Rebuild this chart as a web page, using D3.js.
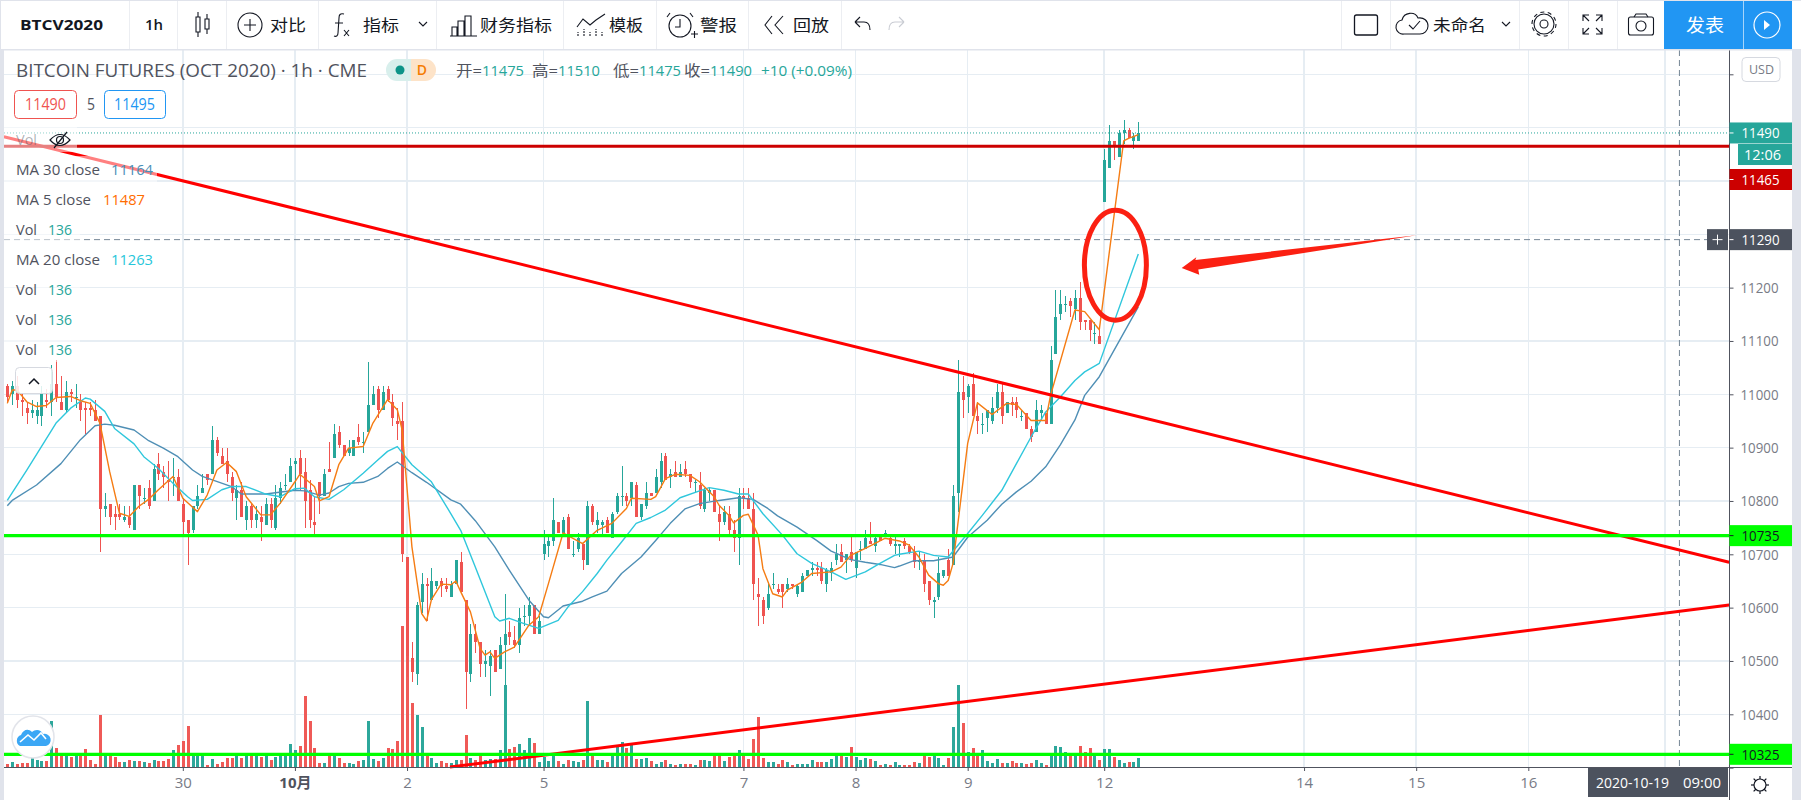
<!DOCTYPE html>
<html>
<head>
<meta charset="utf-8">
<title>BTCV2020 1h</title>
<script src="https://cdn.jsdelivr.net/npm/d3@7/dist/d3.min.js"></script>
<style>
html,body{margin:0;padding:0;background:#fff;overflow:hidden}
svg{display:block}
text{font-family:"Open Sans","Noto Sans CJK SC",sans-serif}
</style>
</head>
<body>
<svg id="chart" width="1801" height="800"></svg>
<script>
// Hourly candles for BTCV2020, one entry per bar
const opens = [
11015,11000,11015,10990,10975,10965,10960,10960,10990,10985,
11020,10985,10970,11005,10995,10985,10975,10975,10970,10960,
10785,10795,10775,10775,10765,10770,10745,10830,10805,10825,
10800,10870,10855,10840,10845,10845,10795,10765,10745,10790,
10815,10850,10850,10915,10885,10875,10845,10805,10820,10765,
10790,10765,10770,10755,10795,10750,10805,10830,10835,10870,
10880,10855,10820,10760,10835,10810,10860,10880,10930,10905,
10890,10885,10920,10910,10930,10980,11010,10970,11010,10985,
10950,10950,10695,10505,10475,10610,10645,10615,10640,10650,
10640,10620,10645,10685,10615,10475,10550,10535,10495,10490,
10520,10485,10530,10555,10540,10530,10585,10585,10605,10550,
10700,10715,10725,10760,10740,10770,10700,10710,10720,10680,
10790,10755,10755,10765,10730,10780,10810,10810,10805,10830,
10770,10790,10815,10815,10835,10885,10845,10855,10845,10860,
10850,10835,10830,10785,10815,10820,10775,10760,10775,10745,
10730,10810,10805,10785,10625,10615,10600,10645,10635,10645,
10635,10645,10625,10630,10660,10670,10675,10675,10645,10665,
10690,10705,10690,10705,10675,10710,10710,10725,10715,10735,
10735,10730,10715,10715,10725,10715,10705,10685,10690,10650,
10610,10620,10660,10690,10680,10815,11005,10995,11020,10960,
10945,10955,10950,10975,11005,10965,10985,10985,10960,10965,
10935,10930,10965,10965,10945,11075,11150,11170,11175,11160,
11180,11140,11140,11115,11110,11360,11425,11475,11445,11490,
11495,11475,11475];
const highs = [
11020,11025,11035,11000,10985,10990,10985,11015,11010,11055,
11065,11035,11025,11010,11020,11000,10985,10985,10990,10960,
10815,10795,10790,10795,10790,10790,10830,10830,10825,10840,
10870,10890,10865,10875,10880,10860,10805,10765,10790,10830,
10850,10850,10940,10920,10900,10900,10855,10830,10835,10800,
10795,10790,10790,10805,10805,10830,10835,10850,10880,10880,
10895,10880,10840,10810,10835,10860,10910,10945,10940,10905,
10915,10915,10945,10930,11060,11015,11015,11015,11015,11000,
10975,10985,10695,10535,10610,10665,10655,10675,10650,10655,
10655,10650,10690,10705,10615,10570,10570,10535,10520,10520,
10520,10545,10625,10575,10565,10600,10605,10620,10605,10585,
10745,10735,10805,10760,10770,10775,10725,10740,10720,10800,
10795,10780,10765,10770,10780,10815,10865,10815,10835,10835,
10795,10835,10815,10860,10890,10890,10860,10875,10870,10875,
10850,10840,10855,10825,10825,10820,10790,10790,10790,10765,
10825,10825,10825,10815,10655,10620,10645,10665,10645,10645,
10655,10645,10645,10665,10670,10685,10685,10685,10675,10685,
10720,10720,10700,10735,10705,10725,10745,10760,10735,10735,
10745,10735,10735,10720,10730,10720,10715,10705,10700,10650,
10620,10695,10670,10710,10830,11065,11035,11020,11040,10985,
10965,10970,10995,11020,11020,10985,10995,10995,10970,10965,
10940,10990,10980,10965,11090,11195,11195,11185,11180,11195,
11210,11140,11140,11135,11125,11460,11505,11475,11495,11515,
11500,11490,11510];
const lows = [
10985,10980,10975,10960,10945,10955,10945,10940,10975,10960,
10985,10970,10965,10985,10975,10950,10925,10960,10950,10705,
10770,10755,10745,10765,10760,10750,10745,10785,10795,10785,
10800,10840,10825,10800,10810,10800,10735,10680,10740,10785,
10815,10830,10850,10885,10870,10835,10800,10765,10770,10745,
10750,10750,10725,10755,10750,10745,10795,10820,10835,10820,
10820,10750,10750,10735,10775,10810,10855,10880,10900,10885,
10885,10885,10905,10890,10930,10980,10955,10970,10985,10940,
10915,10685,10470,10460,10455,10590,10575,10615,10635,10620,
10630,10620,10645,10630,10410,10460,10515,10470,10470,10435,
10480,10485,10455,10530,10525,10515,10565,10570,10550,10550,
10690,10695,10715,10740,10740,10710,10695,10705,10670,10680,
10755,10740,10735,10740,10730,10775,10790,10790,10790,10770,
10765,10785,10810,10815,10825,10840,10825,10845,10845,10845,
10825,10815,10785,10780,10800,10780,10725,10755,10735,10705,
10680,10785,10785,10615,10565,10570,10595,10635,10625,10600,
10630,10635,10620,10630,10660,10660,10660,10645,10630,10650,
10680,10685,10665,10685,10655,10690,10710,10720,10705,10725,
10735,10715,10700,10695,10710,10700,10675,10670,10630,10605,
10580,10615,10655,10660,10680,10780,10955,10965,10960,10925,
10925,10930,10945,10965,10945,10965,10960,10955,10950,10935,
10910,10930,10950,10945,10945,11075,11140,11155,11145,11140,
11120,11120,11100,11095,11095,11360,11425,11440,11445,11470,
11480,11460,11475];
const closes = [
10995,11015,10990,10985,10965,10970,10970,11000,10985,11020,
10995,10970,11005,11000,10995,10970,10970,10970,10950,10785,
10790,10770,10770,10770,10770,10755,10830,10810,10805,10790,
10860,10850,10845,10835,10845,10800,10760,10740,10790,10810,
10825,10840,10915,10890,10870,10850,10815,10820,10770,10790,
10765,10775,10760,10795,10765,10805,10825,10830,10865,10875,
10850,10800,10765,10755,10810,10850,10855,10925,10905,10885,
10900,10915,10910,10910,10980,11000,10970,11005,10990,10955,
10945,10700,10510,10480,10605,10645,10640,10650,10650,10640,
10635,10645,10690,10630,10480,10550,10535,10495,10500,10510,
10480,10530,10550,10545,10530,10580,10585,10605,10550,10575,
10720,10725,10765,10740,10765,10710,10700,10730,10690,10790,
10760,10765,10760,10740,10775,10810,10810,10800,10835,10770,
10795,10815,10810,10845,10875,10840,10850,10845,10855,10850,
10835,10835,10790,10820,10820,10780,10760,10780,10745,10730,
10810,10805,10785,10645,10620,10585,10625,10645,10630,10630,
10645,10640,10640,10660,10670,10675,10670,10650,10670,10675,
10700,10685,10700,10690,10705,10710,10730,10720,10730,10725,
10740,10720,10720,10720,10715,10705,10685,10690,10645,10615,
10615,10665,10670,10660,10810,11005,10990,11015,10960,10950,
10945,10970,10975,11005,10960,10985,10980,10970,10960,10935,
10920,10970,10970,10945,11065,11145,11170,11170,11165,11180,
11135,11135,11120,11115,11095,11440,11475,11465,11490,11495,
11480,11485,11490];
const volumes = [
44,78,44,63,63,126,102,92,92,671,
282,175,175,151,199,165,262,102,44,758,
199,199,141,78,78,102,92,92,68,53,
102,92,92,117,248,321,379,598,199,199,
165,29,117,44,78,136,136,175,136,175,
165,165,151,165,102,151,190,165,335,248,
306,1035,671,282,63,63,199,199,136,63,
53,44,92,102,671,117,92,136,282,258,
379,2056,2605,938,758,588,199,136,63,92,
53,55,107,97,471,131,107,194,107,122,
122,253,1200,267,287,340,253,428,350,73,
141,83,156,83,49,97,83,68,97,957,
194,97,97,73,194,301,369,277,316,122,
122,136,83,44,78,97,44,34,49,49,
49,34,97,107,83,165,156,83,141,165,
253,204,122,413,729,136,78,78,49,107,
78,34,49,49,49,97,68,68,68,112,
204,180,151,296,151,97,136,122,83,34,
49,34,78,34,34,34,78,63,165,151,
165,136,34,136,588,1200,646,224,282,194,
253,92,63,122,63,63,92,63,63,49,
63,107,63,34,180,311,292,224,194,165,
311,224,282,165,107,267,267,151,107,63,
78,78,136];

// Moving averages, as bar number and value
const ma5Bars = [0,1,2,4,6,8,10,13,15,17,19,21,23,25,27,29,31,34,36,39,41,43,45,47,49,52,54,56,59,60,63,64,66,68,70,73,75,78,80,81,83,85,86,87,89,91,
92,93,95,97,98,99,100,102,104,107,109,111,114,118,121,124,127,128,132,133,135,137,140,142,145,146,148,149,151,152,154,155,157,159,160,163,165,169,171,173,176,180,183,
185,187,189,191,192,193,194,197,199,202,205,207,210,213,214,219,221,224,229,230,231,232];
const ma5Values = [10983,11008,11008,10986,10977,10979,10994,10996,10988,10983,10946,10855,10777,10771,10790,10803,10821,10846,10805,10780,10811,10858,10872,10855,10808,10774,10774,10796,10836,10850,10827,10800,10808,10868,10899,10902,10946,10990,10971,10933,10714,10589,10575,10615,10644,10643,
10650,10630,10592,10523,10511,10517,10505,10517,10526,10567,10583,10645,10740,10720,10745,10758,10786,10805,10803,10808,10842,10850,10848,10836,10808,10792,10773,10759,10773,10775,10736,10673,10626,10620,10633,10648,10664,10667,10676,10698,10711,10730,10725,
10717,10695,10661,10645,10642,10651,10683,10908,10984,10962,10983,10981,10951,10951,10998,11158,11155,11121,11475,11480,11483,11487];
const ma20Bars = [0,4,7,10,13,16,17,20,22,26,28,31,34,37,38,41,44,46,49,53,56,59,61,63,66,69,73,76,78,80,83,87,91,
93,96,100,101,103,106,109,113,115,118,121,123,126,129,132,135,138,142,144,147,150,152,155,159,162,165,169,172,176,179,182,183,
187,190,193,197,200,204,207,210,213,216,219,221,224,232];
const ma20Values = [10801,10858,10902,10946,10974,10993,10991,10968,10936,10907,10883,10861,10833,10808,10801,10803,10821,10827,10827,10813,10808,10823,10824,10808,10803,10821,10852,10877,10893,10902,10868,10836,10776,
10745,10676,10583,10575,10580,10570,10561,10576,10601,10630,10664,10689,10723,10758,10769,10783,10806,10819,10825,10820,10813,10813,10776,10736,10701,10683,10667,10653,10667,10683,10698,10700,
10706,10698,10695,10739,10773,10820,10870,10920,10967,10995,11026,11042,11058,11263];
const ma30Bars = [0,1,6,11,15,18,20,22,26,29,32,35,38,40,46,48,53,59,61,64,66,68,70,73,76,78,80,83,86,91,
93,96,100,103,107,110,111,114,118,120,123,126,130,133,136,139,142,146,150,153,156,158,162,166,169,173,176,179,182,183,
186,190,194,197,201,204,207,210,213,216,219,221,224,232];
const ma30Values = [10791,10801,10830,10870,10915,10941,10944,10942,10933,10913,10899,10883,10858,10846,10827,10813,10813,10820,10819,10811,10815,10827,10833,10835,10846,10861,10873,10853,10835,10802,
10794,10763,10714,10670,10614,10583,10581,10603,10612,10620,10631,10664,10695,10726,10758,10785,10795,10801,10806,10803,10786,10772,10751,10726,10706,10690,10685,10681,10675,10678,
10688,10688,10695,10732,10764,10794,10817,10837,10864,10905,10952,10998,11033,11164];

// Axes
const priceTicks = [11600,11500,11400,11300,11200,11100,11000,10900,10800,10700,10600,10500,10400,10300];
const priceTickLabels = [11200,11100,11000,10900,10800,10700,10600,10500,10400];
const timeTickBars = [36,59,82,110,151,174,197,225,266,289,312,340];
const timeTickLabels = ["30","10月","2","5","7","8","9","12","14","15","16",""];

// Drawn overlays: horizontal levels and trend lines
const greenLevels = [10735,10325];
const redLevel = 11465;
const lastClose = 11490;
const crosshairPrice = 11290;
const crosshairBar = 343;
const fallingBars = [-0.7,353.2], fallingPrices = [11483,10685];
const risingBars = [90.8,353.2], risingPrices = [10301,10605];
const circleBar = 227.3, circlePrice = 11242;
const arrowBars = [240.9,243.9,243.7,289.1,244.3,244.5];
const arrowPrices = [11237,11257,11252,11298,11234,11224];

// Legend rows
const indicatorRows = [
  {name:"Vol", nameW:21, value:"", rowW:73},
  {name:"MA 30 close", nameW:84, value:"11164", color:"#4a90b8", valueX:111, valueW:42, rowW:153},
  {name:"MA 5 close", nameW:75, value:"11487", color:"#ff6d00", valueX:103, valueW:42, rowW:145},
  {name:"Vol", nameW:21, value:"136", color:"#26a69a", valueX:48, valueW:24, rowW:76},
  {name:"MA 20 close", nameW:84, value:"11263", color:"#26c6da", valueX:111, valueW:42, rowW:153},
  {name:"Vol", nameW:21, value:"136", color:"#26a69a", valueX:48, valueW:24, rowW:76},
  {name:"Vol", nameW:21, value:"136", color:"#26a69a", valueX:48, valueW:24, rowW:76},
  {name:"Vol", nameW:21, value:"136", color:"#26a69a", valueX:48, valueW:24, rowW:76}
];
const ohlcLabels = [["开=","11475"],["高=","11510"],["低=","11475"],["收=","11490"]];

const UP = "#26a69a", DOWN = "#ef5350", GRID = "#e6edf3", AXIS = "#50535e", TICK_TEXT = "#787b86";
const LEFT = 4, AXIS_X = 1729.5, RIGHT = 1792, TOP = 50, BOTTOM = 767;

const svg = d3.select("#chart");
const x = d3.scaleLinear().domain([0,232]).range([7.3,1138.3]);
const y = d3.scaleLinear().domain([10400,11600]).range([714.3,74.3]);
const vol = d3.scaleLinear().domain([0,2605]).range([BOTTOM,BOTTOM-178.7]);
const bars = d3.range(opens.length);
const px = i => Math.round(x(i));

// Text squeezed or stretched to a set width
const fit = (g,str,x0,yb,w,size,fill,extra={}) => {
  const t = g.append("text").attr("x",x0).attr("y",yb).attr("font-size",size).attr("fill",fill).text(str)
    .attr("textLength",w).attr("lengthAdjust","spacingAndGlyphs");
  Object.entries(extra).forEach(([k,v])=>t.attr(k,v));
  return t;
};

svg.append("rect").attr("width",1801).attr("height",800).attr("fill","#fff");

// Grid
const grid = svg.append("g").attr("stroke",GRID).attr("stroke-width",1.5).attr("shape-rendering","crispEdges");
grid.selectAll("line.h").data(priceTicks).join("line").attr("class","h")
  .attr("x1",LEFT).attr("x2",AXIS_X).attr("y1",d=>y(d)).attr("y2",d=>y(d));
grid.selectAll("line.v").data(timeTickBars).join("line").attr("class","v")
  .attr("x1",d=>x(d)).attr("x2",d=>x(d)).attr("y1",TOP).attr("y2",BOTTOM);

// Volume histogram
const isUp = i => closes[i] >= opens[i];
svg.append("g").attr("shape-rendering","crispEdges").selectAll("rect").data(bars).join("rect")
  .attr("x",i=>px(i)-1).attr("width",3)
  .attr("y",i=>vol(volumes[i])).attr("height",i=>BOTTOM-vol(volumes[i]))
  .attr("fill",i=>isUp(i)?"#2da79b":"#ef5a57");

// Candles
const candles = svg.append("g").attr("shape-rendering","crispEdges");
candles.selectAll("line").data(bars).join("line")
  .attr("x1",i=>px(i)+.5).attr("x2",i=>px(i)+.5)
  .attr("y1",i=>y(highs[i])).attr("y2",i=>y(lows[i]))
  .attr("stroke",i=>isUp(i)?UP:DOWN).attr("stroke-width",1);
candles.selectAll("rect").data(bars).join("rect")
  .attr("x",i=>px(i)-1).attr("width",3)
  .attr("y",i=>y(Math.max(opens[i],closes[i])))
  .attr("height",i=>Math.max(1,Math.abs(y(opens[i])-y(closes[i]))))
  .attr("fill",i=>isUp(i)?UP:DOWN);

// Moving average lines
const maLine = (barList,valueList,color,w) => {
  const line = d3.line().x(d=>x(d[0])).y(d=>y(d[1]));
  svg.append("path").attr("d",line(barList.map((b,k)=>[b,valueList[k]])))
    .attr("fill","none").attr("stroke",color).attr("stroke-width",w).attr("stroke-linejoin","round");
};
maLine(ma30Bars,ma30Values,"#4f8fb5",1.4);
maLine(ma20Bars,ma20Values,"#2fc7dc",1.4);
maLine(ma5Bars,ma5Values,"#f57c13",1.4);

// Last price and crosshair lines
svg.append("line").attr("x1",LEFT).attr("x2",AXIS_X).attr("y1",y(lastClose)).attr("y2",y(lastClose))
  .attr("stroke",UP).attr("stroke-width",1).attr("stroke-dasharray","1 2");
svg.append("line").attr("x1",LEFT).attr("x2",1707).attr("y1",y(crosshairPrice)).attr("y2",y(crosshairPrice))
  .attr("stroke","#758696").attr("stroke-width",1).attr("stroke-dasharray","6 4");
svg.append("line").attr("x1",x(crosshairBar)).attr("x2",x(crosshairBar)).attr("y1",TOP).attr("y2",BOTTOM)
  .attr("stroke","#758696").attr("stroke-width",1).attr("stroke-dasharray","6 4");

// Trend lines and levels
const seg = d3.line().x(d=>x(d[0])).y(d=>y(d[1]));
[[fallingBars,fallingPrices],[risingBars,risingPrices]].forEach(([b,p])=>{
  svg.append("path").attr("d",seg([[b[0],p[0]],[b[1],p[1]]]))
    .attr("fill","none").attr("stroke","#ff0000").attr("stroke-width",3);
});
svg.append("line").attr("x1",LEFT).attr("x2",AXIS_X).attr("y1",y(redLevel)).attr("y2",y(redLevel))
  .attr("stroke","#cc0000").attr("stroke-width",3);
svg.selectAll("line.level").data(greenLevels).join("line").attr("class","level")
  .attr("x1",LEFT).attr("x2",AXIS_X).attr("y1",d=>y(d)).attr("y2",d=>y(d))
  .attr("stroke","#00ff00").attr("stroke-width",3.2);

// Hand-drawn callout: ring and arrow
svg.append("ellipse").attr("cx",x(circleBar)).attr("cy",y(circlePrice)).attr("rx",31).attr("ry",55)
  .attr("fill","none").attr("stroke","#fb2012").attr("stroke-width",5);
svg.append("polygon").attr("points",arrowBars.map((b,k)=>x(b)+","+y(arrowPrices[k])).join(" ")).attr("fill","#fb2012");

// Right strip, edges
svg.append("rect").attr("x",0).attr("y",0).attr("width",LEFT).attr("height",800).attr("fill","#e0e3eb");
svg.append("rect").attr("x",RIGHT).attr("y",0).attr("width",9).attr("height",800).attr("fill","#e0e3eb");
svg.append("rect").attr("x",AXIS_X).attr("y",TOP).attr("width",RIGHT-AXIS_X).attr("height",750).attr("fill","#fff");

// Time axis
const timeAxis = d3.axisBottom(x).tickValues(timeTickBars).tickFormat((d,k)=>timeTickLabels[k]).tickSize(4).tickPadding(6);
const tg = svg.append("g").attr("transform",`translate(0,${BOTTOM})`).call(timeAxis);
tg.select(".domain").remove();
tg.selectAll("line").attr("stroke",AXIS);
tg.selectAll("text").attr("font-size",15)
  .style("font-weight",(d,k)=>timeTickLabels[k]==="10月"?"700":"400")
  .attr("fill",(d,k)=>timeTickLabels[k]==="10月"?"#50535e":TICK_TEXT);
svg.append("line").attr("x1",LEFT).attr("x2",RIGHT).attr("y1",BOTTOM+.5).attr("y2",BOTTOM+.5).attr("stroke",AXIS);

// Price axis
const priceAxis = d3.axisRight(y).tickValues(priceTicks).tickSize(4).tickPadding(7)
  .tickFormat(d=>priceTickLabels.includes(d)?String(d):"");
const pg = svg.append("g").attr("transform",`translate(${AXIS_X},0)`).call(priceAxis);
pg.select(".domain").remove();
pg.selectAll("line").attr("stroke",AXIS);
pg.selectAll("text").attr("font-size",15).attr("fill",TICK_TEXT)
  .attr("textLength",d=>priceTickLabels.includes(d)?38:null).attr("lengthAdjust","spacingAndGlyphs");
svg.append("line").attr("x1",AXIS_X).attr("x2",AXIS_X).attr("y1",TOP).attr("y2",800).attr("stroke",AXIS);

// Price tags on the axis
const priceTag = (v,yc,bg,fg) => {
  svg.append("rect").attr("x",AXIS_X).attr("y",yc-10.5).attr("width",RIGHT-AXIS_X).attr("height",21).attr("fill",bg);
  svg.append("line").attr("x1",AXIS_X).attr("x2",AXIS_X+4).attr("y1",yc).attr("y2",yc).attr("stroke",fg);
  fit(svg,String(v),AXIS_X+12,yc+5.5,38,15,fg);
};
priceTag(lastClose,y(lastClose),UP,"#fff");
svg.append("rect").attr("x",1738).attr("y",144).attr("width",RIGHT-1738).attr("height",21).attr("fill",UP);
fit(svg,"12:06",1744,160,37,15,"#fff");
priceTag(redLevel,179.5,"#cc0000","#fff");
priceTag(crosshairPrice,y(crosshairPrice),"#4c525e","#fff");
svg.append("rect").attr("x",1707).attr("y",y(crosshairPrice)-10.5).attr("width",21).attr("height",21).attr("fill","#4c525e");
svg.append("path").attr("d",`M1712.5 ${y(crosshairPrice)}h10M1717.5 ${y(crosshairPrice)-5}v10`).attr("stroke","#fff");
priceTag(greenLevels[0],y(greenLevels[0]),"#00ff00","#131722");
priceTag(greenLevels[1],y(greenLevels[1]),"#00ff00","#131722");

// Currency button
svg.append("rect").attr("x",1742).attr("y",57.5).attr("width",38).attr("height",24).attr("rx",4).attr("fill","#fff").attr("stroke","#d6d9e0");
fit(svg,"USD",1749,74,25,13,TICK_TEXT);

// Date tag and settings gear
svg.append("rect").attr("x",1588).attr("y",BOTTOM+1).attr("width",140).attr("height",29).attr("fill","#4c525e");
fit(svg,"2020-10-19",1596,788,73,15,"#fff");
fit(svg,"09:00",1683,788,38,15,"#fff");
const gear = svg.append("g").attr("transform","translate(1760,785)").attr("fill","none").attr("stroke","#131722").attr("stroke-width",1.2);
gear.append("circle").attr("r",6);
d3.range(8).forEach(k=>{const a=k*Math.PI/4;gear.append("line").attr("x1",6*Math.cos(a)).attr("y1",6*Math.sin(a)).attr("x2",9*Math.cos(a)).attr("y2",9*Math.sin(a));});

// Indicator legend with translucent row backdrops
const legend = svg.append("g");
indicatorRows.forEach((r,k)=>{
  const yc = 139 + k*30;
  legend.append("rect").attr("x",LEFT).attr("y",yc-13).attr("width",r.rowW).attr("height",26).attr("fill","#fff").attr("fill-opacity",.5);
  fit(legend,r.name,16,yc+6,r.nameW,15,"#50535e",{"fill-opacity":k===0?.45:1});
  if(r.value) fit(legend,r.value,r.valueX,yc+6,r.valueW,15,r.color);
});
const eye = legend.append("g").attr("transform","translate(60,140)").attr("fill","none").attr("stroke","#131722").attr("stroke-width",1.2);
eye.append("path").attr("d","M-10 0Q0 -11 10 0Q0 11 -10 0Z");
eye.append("circle").attr("r",3.5);
eye.append("line").attr("x1",-6).attr("y1",8).attr("x2",7).attr("y2",-8);

// Collapse button and floating logo
svg.append("rect").attr("x",15.5).attr("y",367.5).attr("width",37).attr("height",26).attr("rx",4).attr("fill","#fff").attr("fill-opacity",.85).attr("stroke","#d6d9e0");
svg.append("path").attr("d","M29 384l5-5 5 5").attr("fill","none").attr("stroke","#131722").attr("stroke-width",1.5);
svg.append("circle").attr("cx",33).attr("cy",737).attr("r",21).attr("fill","#fff").attr("stroke","#e2e4ea").attr("stroke-width",1.5);
svg.append("path").attr("d","M20 746a6 6 0 0 1 1-11c2-5 7-7 11-3 3-3 9-3 11 2a6 6 0 0 1 3 12z").attr("fill","#3ba7f5");
svg.append("path").attr("d","M20 742l8-7 6 5 7-7 5 6").attr("fill","none").attr("stroke","#fff").attr("stroke-width",1.6);

// Symbol header
const head = svg.append("g");
fit(head,"BITCOIN FUTURES (OCT 2020) · 1h · CME",16,77,351,17.5,"#50535e");
head.append("path").attr("d","M411 59h-14a11 11 0 0 0 0 22h14z").attr("fill","#d8efec");
head.append("path").attr("d","M411 59h14a11 11 0 0 1 0 22h-14z").attr("fill","#fde3c8");
head.append("circle").attr("cx",400).attr("cy",70).attr("r",4.5).attr("fill","#0d9488");
head.append("text").attr("x",422).attr("y",75).attr("font-size",14).attr("font-weight",600).attr("text-anchor","middle").attr("fill","#f57c00").text("D");
const ohlcX = [456,532,613,684];
ohlcLabels.forEach(([a,b],k)=>{
  fit(head,a,ohlcX[k],76,26,15,"#50535e");
  fit(head,b,ohlcX[k]+26,76,42,15,UP);
});
fit(head,"+10 (+0.09%)",761,76,91,15,UP);
head.append("rect").attr("x",14.5).attr("y",90.5).attr("width",62).attr("height",28).attr("rx",4).attr("fill","#fff").attr("stroke",DOWN);
fit(head,String(lastClose),25,110,41,15.5,DOWN);
fit(head,"5",87,110,8,15.5,"#50535e");
head.append("rect").attr("x",104.5).attr("y",90.5).attr("width",61).attr("height",28).attr("rx",4).attr("fill","#fff").attr("stroke","#2196f3");
fit(head,"11495",114,110,41,15.5,"#2196f3");

// Toolbar
const bar = svg.append("g");
bar.append("rect").attr("width",1801).attr("height",50).attr("fill","#fff");
bar.append("rect").attr("width",1801).attr("height",1).attr("fill","#e0e3eb");
bar.append("rect").attr("y",49).attr("width",1801).attr("height",1.5).attr("fill","#e0e3eb");
bar.append("rect").attr("x",0).attr("width",1).attr("height",50).attr("fill","#e0e3eb");
[129,177,226,318,436,563,656,748,841,1341,1390,1519,1568,1617].forEach(sx=>{
  bar.append("line").attr("x1",sx+.5).attr("x2",sx+.5).attr("y1",1).attr("y2",49).attr("stroke","#eceef2");
});
bar.append("rect").attr("x",1664).attr("y",1).attr("width",128).attr("height",48).attr("fill","#2196f3");
bar.append("line").attr("x1",1743.5).attr("x2",1743.5).attr("y1",1).attr("y2",49).attr("stroke","#a6d4fa");
fit(bar,"BTCV2020",20,30,83,15,"#131722",{"font-weight":700});
fit(bar,"1h",145,30,18,15,"#131722",{"font-weight":600});
[["对比",270,36],["指标",363,36],["财务指标",480,72],["模板",609,34],["警报",700,37],["回放",793,36]].forEach(([s,sx,w])=>{
  fit(bar,s,sx,31,w,16,"#131722");
});
fit(bar,"未命名",1433,31,53,16,"#131722");
fit(bar,"发表",1686,32,38,18,"#fff");

const ink = bar.append("g").attr("fill","none").attr("stroke","#131722").attr("stroke-width",1.1);
// candle type
ink.append("path").attr("d","M198 12v5M198 32v5M196 17h4v15h-4zM207 14v5M207 29v5M205 19h4v10h-4z");
// add symbol
ink.append("circle").attr("cx",250).attr("cy",25).attr("r",12);
ink.append("path").attr("d","M250 19v12M244 25h12");
// indicator fx
ink.append("path").attr("d","M344 14c-4-1-5 1-5 4l-1 15c0 3-2 4-4 3M335 23h8M344 30l5 6M349 30l-5 6");
ink.append("path").attr("d","M419 22l4 4 4-4");
// financials bars
ink.append("path").attr("d","M450 36h27M452 36v-9h5v9M458 36v-15h6v15M465 36v-20h6v20");
// templates
ink.append("path").attr("d","M577 27l6-8 7 6 6-5 9-6");
ink.append("path").attr("d","M578 36v-4M584 36v-7M590 36v-4M596 36v-7M602 36v-4").attr("stroke-dasharray","2 1");
// alarm
ink.append("circle").attr("cx",680).attr("cy",26).attr("r",11);
ink.append("path").attr("d","M680 19v8h-5M670 13l-3 4M690 13l3 4M691 34h7M694.5 31v7");
// replay
ink.append("path").attr("d","M772 16l-7 9 7 9M783 16l-8 9 8 9");
// undo and redo
ink.append("path").attr("d","M855 22l5-5M855 22l5 5M855 22h9c4 0 6 3 6 8");
ink.append("path").attr("d","M904 22l-5-5M904 22l-5 5M904 22h-9c-4 0-6 3-6 8").attr("stroke","#c9ccd3");
// layout
ink.append("rect").attr("x",1354.5).attr("y",15).attr("width",23).attr("height",20).attr("rx",2).attr("stroke-width",1.3);
// cloud
ink.append("path").attr("d","M1404 34a7 7 0 0 1-2-14c2-8 13-9 16-2 6-1 10 3 10 8 0 5-4 8-8 8z");
ink.append("path").attr("d","M1409 25l4 4 7-8");
ink.append("path").attr("d","M1502 22l4 4 4-4");
// settings
ink.append("circle").attr("cx",1544).attr("cy",24).attr("r",4);
ink.append("circle").attr("cx",1544).attr("cy",24).attr("r",10);
ink.append("circle").attr("cx",1544).attr("cy",24).attr("r",12).attr("stroke-dasharray","4 3.5");
// fullscreen
ink.append("path").attr("d","M1583 21v-6h6M1583 15l6 6M1602 21v-6h-6M1602 15l-6 6M1583 28v6h6M1583 34l6-6M1602 28v6h-6M1602 34l-6-6");
// snapshot
ink.append("rect").attr("x",1628.5).attr("y",17).attr("width",25).attr("height",18).attr("rx",2);
ink.append("circle").attr("cx",1641).attr("cy",26).attr("r",5);
ink.append("path").attr("d","M1634 17l2-3h10l2 3");
// play
const play = bar.append("g");
play.append("circle").attr("cx",1767).attr("cy",25).attr("r",13).attr("fill","none").attr("stroke","#fff").attr("stroke-width",1.2);
play.append("path").attr("d","M1764 20l6 5-6 5z").attr("fill","#fff");
</script>
</body>
</html>
